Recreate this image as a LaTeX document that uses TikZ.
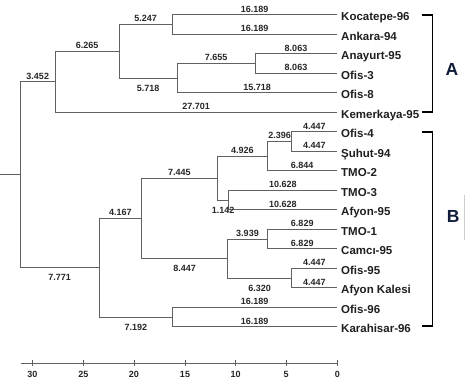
\documentclass[tikz,border=0pt]{standalone}
\usepackage{fontspec}
\setmainfont{Liberation Sans}
\definecolor{navy}{HTML}{101C3A}
\begin{document}
\begin{tikzpicture}[x=1pt,y=-1pt,
  br/.style={draw=black!62, line width=0.9pt},
  num/.style={font=\bfseries\fontsize{9}{10}\selectfont, text=black!85, inner sep=0pt},
  up/.style={num, anchor=south, yshift=2pt},
  dn/.style={num, anchor=north, yshift=-6.5pt},
  leaf/.style={font=\bfseries\fontsize{11.5}{13}\selectfont, text=black!88, anchor=base west, inner sep=0pt},
  brk/.style={draw=black, line width=1.8pt},
  grp/.style={font=\bfseries\fontsize{17.5}{20}\selectfont, text=navy, inner sep=0pt}]
\useasboundingbox (0,0) rectangle (474,389);
% leaf ends
\foreach \i/\y/\t in {0/14.7/Kocatepe-96, 1/34.2/Ankara-94, 2/53.7/Anayurt-95, 3/73.2/Ofis-3,
  4/92.7/Ofis-8, 5/112.2/Kemerkaya-95, 6/131.7/Ofis-4, 7/151.2/Şuhut-94, 8/170.7/TMO-2,
  9/190.2/TMO-3, 10/209.7/Afyon-95, 11/229.2/TMO-1, 12/248.7/Camcı-95, 13/268.2/Ofis-95,
  14/287.7/Afyon Kalesi, 15/307.2/Ofis-96, 16/326.7/Karahisar-96}{
  \coordinate (e\i) at (337,\y);
  \node[leaf] (n\i) at (341,\y+6) {\t};
}
% internal nodes
\coordinate (a1) at (172.4,24.45);
\coordinate (a2) at (255.0,63.45);
\coordinate (a3) at (177.1,78.1);
\coordinate (a4) at (119.0,51.3);
\coordinate (a5) at (55.3,81.7);
\coordinate (b1) at (291.8,141.45);
\coordinate (b2) at (267.4,156.1);
\coordinate (b3) at (228.9,199.95);
\coordinate (b4) at (217.3,178.0);
\coordinate (b5) at (267.5,238.95);
\coordinate (b6) at (291.8,277.95);
\coordinate (b7) at (227.5,258.45);
\coordinate (b8) at (141.6,218.2);
\coordinate (b9) at (172.4,316.95);
\coordinate (b10) at (99.2,267.6);
\coordinate (r) at (20.2,174.6);
\coordinate (stub) at (0,174.6);
% branches
\draw[br] (a1) |- node[up,pos=0.75]{16.189} (e0);
\draw[br] (a1) |- node[up,pos=0.75]{16.189} (e1);
\draw[br] (a2) |- node[up,pos=0.75]{8.063} (e2);
\draw[br] (a2) |- node[up,pos=0.75]{8.063} (e3);
\draw[br] (a3) |- node[up,pos=0.75]{7.655} (a2);
\draw[br] (a3) |- node[up,pos=0.75]{15.718} (e4);
\draw[br] (a4) |- node[up,pos=0.75]{5.247} (a1);
\draw[br] (a4) |- node[dn,pos=0.75]{5.718} (a3);
\draw[br] (a5) |- node[up,pos=0.75]{6.265} (a4);
\draw[br] (a5) |- node[up,pos=0.75]{27.701} (e5);
\draw[br] (b1) |- node[up,pos=0.75]{4.447} (e6);
\draw[br] (b1) |- node[up,pos=0.75]{4.447} (e7);
\draw[br] (b2) |- node[up,pos=0.75]{2.396} (b1);
\draw[br] (b2) |- node[up,pos=0.75]{6.844} (e8);
\draw[br] (b3) |- node[up,pos=0.75]{10.628} (e9);
\draw[br] (b3) |- node[up,pos=0.75]{10.628} (e10);
\draw[br] (b4) |- node[up,pos=0.75]{4.926} (b2);
\draw[br] (b4) |- node[dn,pos=0.75]{1.142} (b3);
\draw[br] (b5) |- node[up,pos=0.75]{6.829} (e11);
\draw[br] (b5) |- node[up,pos=0.75]{6.829} (e12);
\draw[br] (b6) |- node[up,pos=0.75]{4.447} (e13);
\draw[br] (b6) |- node[up,pos=0.75]{4.447} (e14);
\draw[br] (b7) |- node[up,pos=0.75]{3.939} (b5);
\draw[br] (b7) |- node[dn,pos=0.75]{6.320} (b6);
\draw[br] (b8) |- node[up,pos=0.75]{7.445} (b4);
\draw[br] (b8) |- node[dn,pos=0.75]{8.447} (b7);
\draw[br] (b9) |- node[up,pos=0.75]{16.189} (e15);
\draw[br] (b9) |- node[up,pos=0.75]{16.189} (e16);
\draw[br] (b10) |- node[up,pos=0.75]{4.167} (b8);
\draw[br] (b10) |- node[dn,pos=0.75]{7.192} (b9);
\draw[br] (r) |- node[up,pos=0.75]{3.452} (a5);
\draw[br] (r) |- node[dn,pos=0.75]{7.771} (b10);
\draw[br] (r) -- (stub);
% axis
\coordinate (ax0) at (20.7,363.3);
\coordinate (ax1) at (337,363.3);
\draw[br, line width=0.8pt] (ax0) -- (ax1);
\foreach \v/\x in {30/32.3, 25/83.3, 20/134, 15/185, 10/235.7, 5/286, 0/337.3}{
  \draw[br, line width=0.8pt] (\x,360) -- (\x,366);
  \node[num] (t\v) at (\x,374) {\v};
}
% brackets
\coordinate (A1) at (421.7,15);
\coordinate (A2) at (432.5,15);
\coordinate (A3) at (432.5,112.3);
\coordinate (A4) at (421.7,112.3);
\draw[brk] (A1) -- (A2) -- (A3) -- (A4);
\coordinate (B1) at (421.7,132.2);
\coordinate (B2) at (432.5,132.2);
\coordinate (B3) at (432.5,325.7);
\coordinate (B4) at (421.7,325.7);
\draw[brk] (B1) -- (B2) -- (B3) -- (B4);
\node[grp] (gA) at (452,69.2) {A};
\node[grp] (gB) at (453.3,216.7) {B};
\coordinate (g1) at (464.5,195);
\coordinate (g2) at (464.5,240);
\draw[draw=black!20, line width=0.8pt] (g1) -- (g2);
\end{tikzpicture}
\end{document}
